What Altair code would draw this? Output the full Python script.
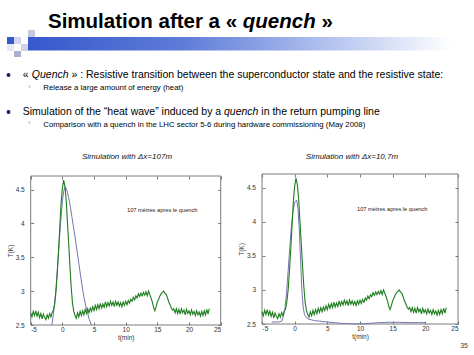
import altair as alt
import pandas as pd

FONT = "Liberation Sans"

# ---------------- data ----------------
# measured temperature trace (same record in both panels), one value every 0.2 min from -5 min
green_T = [
    2.68, 2.62, 2.70, 2.64, 2.71, 2.63, 2.69, 2.61, 2.67, 2.59, 2.66, 2.61, 2.58, 2.65, 2.60, 2.67, 2.62, 2.69,
    2.72, 2.82, 3.00, 3.28, 3.60, 3.95, 4.30, 4.52, 4.64, 4.55, 4.35, 4.02, 3.70, 3.36, 3.05, 2.82, 2.70, 2.64,
    2.60, 2.68, 2.62, 2.70, 2.64, 2.71, 2.65, 2.73, 2.67, 2.74, 2.68, 2.75,
    2.70, 2.77, 2.71, 2.79, 2.73, 2.80, 2.74, 2.82, 2.75, 2.81, 2.76, 2.84, 2.77, 2.83, 2.78, 2.85, 2.79, 2.84,
    2.77, 2.85, 2.79, 2.84, 2.78, 2.83, 2.77, 2.84,
    2.79, 2.85, 2.80, 2.86, 2.82, 2.88, 2.85, 2.91, 2.87, 2.93, 2.90, 2.96, 2.92, 2.97, 2.93, 2.98, 2.94, 2.99,
    2.93, 3.00, 2.95,
    2.90, 2.84, 2.76, 2.71, 2.77, 2.84, 2.88, 2.93, 2.96, 2.98, 3.00, 2.97, 2.95, 2.90, 2.84, 2.80, 2.75, 2.72,
    2.74,
    2.68, 2.74, 2.67, 2.73, 2.66, 2.74, 2.68, 2.72, 2.65, 2.73, 2.67, 2.71, 2.65, 2.72, 2.66, 2.70, 2.64, 2.71,
    2.65, 2.69, 2.63, 2.70, 2.64, 2.71, 2.65, 2.73, 2.66, 2.74,
]
green_t = [round(-5 + 0.2 * i, 1) for i in range(len(green_T))]

# simulation, dx = 107 m
sim1_t = [-1.65, -1.5, -1.25, -1.0, -0.75, -0.5, -0.25, 0.0, 0.2, 0.4, 0.6, 0.8, 1.0, 1.25, 1.5, 1.75,
          2.0, 2.25, 2.5, 2.75, 3.0, 3.25, 3.5, 3.75, 4.0, 4.25, 4.6]
sim1_T = [2.50, 2.60, 2.80, 3.05, 3.38, 3.72, 4.05, 4.32, 4.47, 4.54, 4.52, 4.46, 4.38, 4.25, 4.10, 3.95,
          3.80, 3.64, 3.48, 3.31, 3.15, 3.00, 2.87, 2.76, 2.67, 2.58, 2.50]

# simulation, dx = 10.7 m
sim2_t = [-3.5, -3.0, -2.5, -2.0, -1.75, -1.5, -1.25, -1.0, -0.75, -0.5, -0.25, 0.0, 0.3, 0.5, 0.7, 0.9,
          1.1, 1.3, 1.5, 1.8, 2.2, 3.0, 4.0, 5.0, 6.0, 7.0, 8.5, 10.0, 11.5, 13.0, 14.5, 16.0, 17.5, 19.0, 20.0]
sim2_T = [2.53, 2.53, 2.53, 2.54, 2.60, 2.72, 2.95, 3.28, 3.62, 3.93, 4.15, 4.28, 4.32, 4.20, 3.90, 3.45,
          3.00, 2.75, 2.64, 2.59, 2.57, 2.55, 2.54, 2.53, 2.52, 2.51, 2.505, 2.50, 2.51, 2.52, 2.525, 2.525,
          2.52, 2.52, 2.52]

x_ticks = [-5, 0, 5, 10, 15, 20, 25]
y_ticks = [2.5, 3, 3.5, 4, 4.5]
X_DOMAIN = [-5, 25]
Y_DOMAIN = [2.5, 4.7]

GREEN = "#1f7d1f"
SIM = "#7676b0"
W, H = 474, 355

one = pd.DataFrame({"k": [0]})


def txt(s, x, y, size, align="left", color="#000000", **kw):
    return alt.Chart(one).mark_text(
        text=s, align=align, baseline="alphabetic", fontSize=size, font=FONT, color=color, **kw
    ).encode(x=alt.value(x), y=alt.value(y))


def box(x1, y1, x2, y2, color, opacity=1.0):
    return alt.Chart(one).mark_rect(color=color, opacity=opacity).encode(
        x=alt.value(x1), x2=alt.value(x2), y=alt.value(y1), y2=alt.value(y2)
    )


# ---------------- header ----------------
bar = alt.Chart(one).mark_rect(
    fill=alt.Gradient(
        gradient="linear",
        stops=[
            alt.GradientStop(offset=0, color="#3558cc"),
            alt.GradientStop(offset=0.35, color="#5f7cd8"),
            alt.GradientStop(offset=0.7, color="#bac8f0"),
            alt.GradientStop(offset=0.95, color="#ffffff"),
            alt.GradientStop(offset=1, color="#ffffff"),
        ],
        x1=0, x2=1, y1=0, y2=0,
    )
).encode(x=alt.value(28), x2=alt.value(474), y=alt.value(37), y2=alt.value(50.5))

squares = [
    box(7, 37, 14, 44, "#3558cc"),
    box(14, 37, 21, 44, "#d4d6ec"),
    box(28, 30, 35, 37, "#c6c8e0"),
    box(21, 44, 28, 51, "#d0d2e6"),
    box(14, 51, 21, 57, "#aeb0d0"),
    box(7, 44, 14, 51, "#e8e8f4"),
]

bullet = alt.Chart(one).mark_circle(size=15, color="#1b1b6b", opacity=1)
header_layers = [
    bar,
    *squares,
    txt("Simulation after a \u00ab", 48, 28.3, 20.5, fontWeight="bold"),
    txt("quench", 242.8, 28.3, 20.5, fontWeight="bold", fontStyle="italic"),
    txt("\u00bb", 321.4, 28.3, 20.5, fontWeight="bold"),
    bullet.encode(x=alt.value(8.5), y=alt.value(75)),
    bullet.encode(x=alt.value(8.5), y=alt.value(112)),
    txt("\u00ab", 22.7, 78.4, 10.5),
    txt("Quench", 31.8, 78.4, 10.5, fontStyle="italic"),
    txt("\u00bb : Resistive transition between the superconductor state and the resistive state:", 71.4, 78.4, 10.5),
    box(28, 85, 31, 88, "#e2e2e2"),
    txt("Release a large amount of energy (heat)", 43.3, 89.6, 7.8),
    txt("Simulation of the \u201cheat wave\u201d induced by a", 22.7, 115.4, 10.5),
    txt("quench", 224.0, 115.4, 10.5, fontStyle="italic"),
    txt("in the return pumping line", 261.3, 115.4, 10.5),
    box(28, 121, 31, 124, "#e2e2e2"),
    txt("Comparison with a quench in the LHC sector 5-6 during hardware commissioning (May 2008)", 43.3, 126.8, 7.8),
]

# ---------------- panels ----------------
ax_common = dict(
    domain=False, tickSize=3, tickColor="#555555", tickWidth=0.8, grid=False,
    labelFont=FONT, labelFontSize=6.5, labelColor="#333333",
    titleFont=FONT, titleFontSize=6.5, titleColor="#333333", titleFontWeight="normal",
    labelExpr="'' + datum.value",
)


def panel(sim_t, sim_T, xr, yr, title, title_x, note_x, note_y):
    xs = alt.Scale(domain=X_DOMAIN, range=xr, nice=False, zero=False)
    ys = alt.Scale(domain=Y_DOMAIN, range=yr, nice=False, zero=False)
    sim_df = pd.DataFrame({"t": sim_t, "T": sim_T})
    meas_df = pd.DataFrame({"t": green_t, "T": green_T})
    # axes sit 3 px inside the frame so that their ticks point inwards
    xb = alt.Axis(orient="bottom", values=x_ticks, title="t(min)", offset=(yr[0] - 3) - H,
                  labelPadding=1.5, titlePadding=1, **ax_common)
    yl = alt.Axis(orient="left", values=y_ticks, title="T(K)", offset=-(xr[0] + 3),
                  labelPadding=6.5, titlePadding=2, **ax_common)
    xt = alt.Axis(orient="top", values=x_ticks, title="", labels=False, offset=-(yr[1] + 3), **ax_common)
    yrt = alt.Axis(orient="right", values=y_ticks, title="", labels=False,
                   offset=-(W - (xr[1] - 3)), **ax_common)
    frame = alt.Chart(one).mark_rect(fill="#ffffff", fillOpacity=0, stroke="#7a7a7a", strokeWidth=1).encode(
        x=alt.XDatum(X_DOMAIN[0], scale=xs, axis=None),
        x2=alt.X2Datum(X_DOMAIN[1]),
        y=alt.YDatum(Y_DOMAIN[0], scale=ys, axis=None),
        y2=alt.Y2Datum(Y_DOMAIN[1]),
    )
    sim = alt.Chart(sim_df).mark_line(color=SIM, strokeWidth=1).encode(
        x=alt.X("t:Q", scale=xs, axis=xb),
        y=alt.Y("T:Q", scale=ys, axis=yl),
    )
    meas = alt.Chart(meas_df).mark_line(color=GREEN, strokeWidth=1.1).encode(
        x=alt.X("t:Q", scale=xs, axis=xt),
        y=alt.Y("T:Q", scale=ys, axis=yrt),
    )
    return [
        frame,
        sim,
        meas,
        txt("107 m\u00e8tres apres le quench", note_x, note_y, 5.7, color="#222222"),
        txt(title, title_x, 159, 8, align="center", fontStyle="italic", color="#111111"),
    ]


left = panel(sim1_t, sim1_T, [30.7, 220.7], [325, 176], "Simulation with \u0394x=107m", 127, 127, 212)
right = panel(sim2_t, sim2_T, [262, 458], [324, 174], "Simulation with \u0394x=10,7m", 352, 357, 211)

layers = header_layers + left + right + [txt("35", 468, 348, 7, align="right", color="#444444")]

chart = (
    alt.layer(*layers)
    .resolve_scale(x="independent", y="independent")
    .properties(
        width=W, height=H, padding=0, background="#ffffff",
        autosize=alt.AutoSizeParams(type="none"),
        view=alt.ViewBackground(stroke="transparent"),
    )
)

chart.save("out.html", embed_options={"renderer": "svg", "actions": False})
